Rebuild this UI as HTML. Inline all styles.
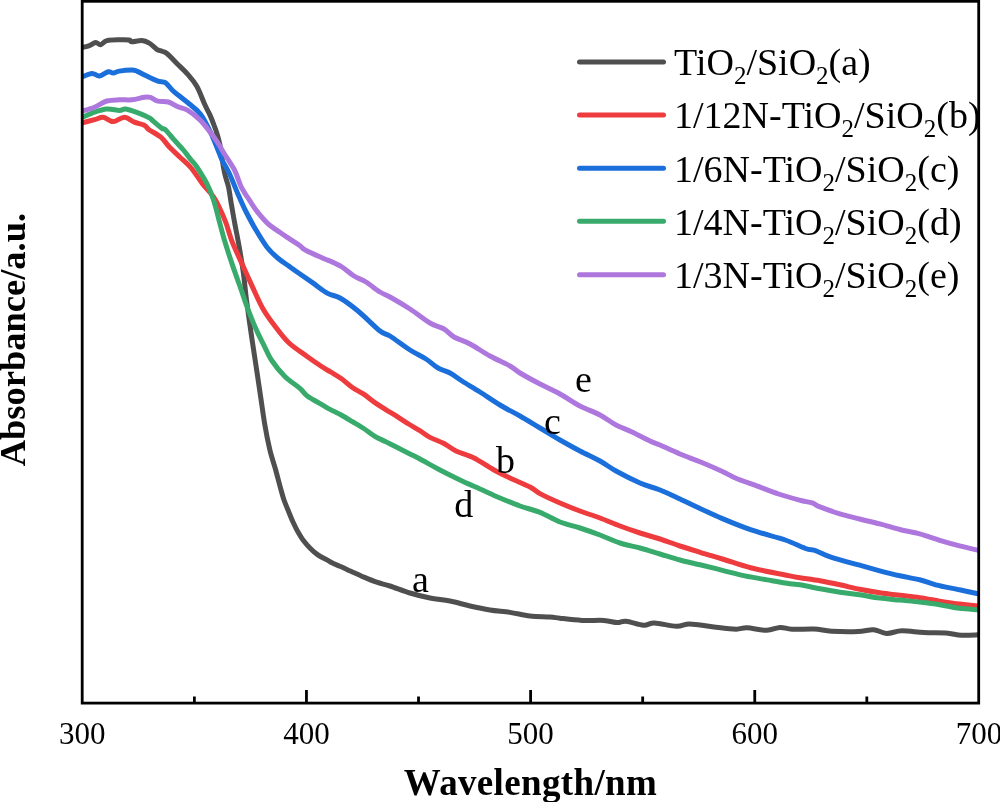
<!DOCTYPE html>
<html><head><meta charset="utf-8">
<style>
html,body{margin:0;padding:0;background:#fff;}
body{width:1000px;height:802px;overflow:hidden;position:relative;}
svg{position:absolute;left:0;top:0;will-change:transform;}
text{font-family:"Liberation Serif",serif;fill:#000;}
.tk{font-size:31px;}
.lg{font-size:38px;}
.sub{font-size:25px;}
.ttl{font-size:37px;font-weight:bold;}
.cl{font-size:38px;}
</style></head><body>
<svg width="1000" height="802" viewBox="0 0 1000 802">
<defs><clipPath id="pc"><rect x="82.3" y="0" width="896.5" height="702"/></clipPath></defs>
<g fill="none" stroke-width="5.0" stroke-linejoin="round" stroke-linecap="round" clip-path="url(#pc)">
<path d="M82.5 47.4 C83.7 47.1 87.3 46.4 89.5 45.6 C91.7 44.8 93.8 42.6 95.7 42.5 C97.6 42.4 98.8 45.0 100.7 44.7 C102.6 44.4 103.8 41.4 106.9 40.6 C110.0 39.8 115.7 39.8 119.4 39.7 C123.2 39.6 127.3 39.6 129.4 40.0 C131.5 40.4 129.7 41.7 131.8 41.8 C133.9 41.9 138.9 40.4 141.8 40.6 C144.7 40.8 146.8 41.7 149.3 43.1 C151.8 44.5 154.7 47.9 156.8 49.3 C158.9 50.6 160.3 50.5 162.0 51.2 C163.7 51.9 164.3 51.4 166.9 53.5 C169.5 55.6 173.9 60.4 177.4 63.9 C180.9 67.4 184.6 70.7 187.8 74.4 C191.0 78.1 193.9 81.2 196.8 86.3 C199.7 91.4 202.8 100.2 205.0 105.0 C207.2 109.8 208.4 111.6 209.9 114.9 C211.4 118.2 212.7 121.6 213.9 124.9 C215.2 128.2 216.4 131.6 217.4 134.9 C218.4 138.2 219.2 141.3 219.9 144.8 C220.6 148.3 220.8 151.0 221.6 156.0 C222.4 161.0 223.8 169.6 225.0 174.8 C226.2 180.0 227.4 182.0 228.5 187.0 C229.6 192.0 230.4 198.7 231.5 205.0 C232.6 211.3 233.6 217.3 235.0 224.7 C236.4 232.1 238.3 241.3 239.7 249.6 C241.1 257.9 242.5 266.2 243.6 274.6 C244.7 283.0 245.4 291.6 246.5 300.0 C247.6 308.4 248.7 316.6 249.9 324.9 C251.1 333.2 252.3 341.6 253.6 349.9 C254.8 358.2 256.1 366.5 257.4 374.8 C258.6 383.1 259.9 391.5 261.1 399.8 C262.3 408.1 263.4 416.4 264.8 424.7 C266.2 433.0 268.0 442.1 269.8 449.6 C271.6 457.2 273.9 463.4 275.7 470.0 C277.5 476.6 279.5 484.5 280.9 489.5 C282.3 494.5 282.8 496.6 284.0 500.0 C285.2 503.4 286.5 506.3 288.0 510.0 C289.5 513.7 291.3 518.3 293.0 522.0 C294.7 525.7 296.3 529.0 298.0 532.0 C299.7 535.0 301.0 537.4 303.0 540.0 C305.0 542.6 307.4 545.4 309.9 547.9 C312.4 550.4 315.1 552.9 317.9 554.9 C320.7 556.9 324.6 558.6 326.9 559.9 C329.2 561.2 329.7 561.7 331.9 562.8 C334.1 563.9 336.9 565.0 339.9 566.3 C342.9 567.6 346.1 569.1 349.8 570.8 C353.5 572.4 357.3 574.3 361.8 576.2 C366.3 578.1 372.0 580.6 376.7 582.2 C381.4 583.8 384.4 584.2 390.0 586.0 C395.6 587.8 403.3 591.0 410.0 593.0 C416.7 595.0 423.3 596.7 430.0 598.0 C436.7 599.3 443.3 599.7 450.0 601.0 C456.7 602.3 463.3 604.5 470.0 606.0 C476.7 607.5 483.3 608.9 490.0 610.0 C496.7 611.1 503.3 611.4 510.0 612.4 C516.7 613.4 523.3 615.2 530.0 616.0 C536.7 616.8 545.0 616.6 550.0 617.0 C555.0 617.4 554.7 617.6 560.0 618.2 C565.3 618.8 574.7 620.0 582.0 620.4 C589.3 620.8 598.1 620.0 604.0 620.4 C609.9 620.8 613.5 622.5 617.2 622.6 C620.9 622.7 621.6 620.8 626.0 621.2 C630.4 621.6 638.8 624.9 643.6 625.2 C648.4 625.5 649.1 622.8 654.6 623.0 C660.1 623.2 670.7 626.1 676.6 626.3 C682.5 626.5 683.6 624.0 689.8 624.1 C696.0 624.2 706.3 626.1 714.0 627.0 C721.7 627.9 730.5 629.1 736.0 629.2 C741.5 629.3 741.9 627.6 747.0 627.8 C752.1 628.0 761.3 630.4 766.8 630.3 C772.3 630.2 775.8 627.6 780.0 627.4 C784.2 627.2 786.3 629.0 792.0 629.3 C797.7 629.6 807.4 628.7 814.0 629.0 C820.6 629.3 824.3 630.8 831.6 631.2 C838.9 631.6 851.0 631.8 858.0 631.5 C865.0 631.2 868.6 629.4 873.4 629.7 C878.2 630.0 881.8 633.2 886.6 633.4 C891.4 633.6 895.8 630.9 902.0 630.8 C908.2 630.7 916.7 632.2 924.0 632.6 C931.3 633.0 939.8 632.6 946.0 633.0 C952.2 633.4 956.1 634.9 961.4 635.2 C966.7 635.5 975.2 634.9 978.0 634.8" stroke="#4f4f4f"/>
<path d="M82.5 122.8 C84.5 122.3 91.0 120.6 94.5 119.7 C98.0 118.8 100.1 116.9 103.2 117.2 C106.3 117.5 109.7 121.6 113.2 121.6 C116.7 121.6 120.9 117.1 124.4 117.2 C127.9 117.3 131.0 120.9 134.3 122.2 C137.6 123.5 141.9 124.0 144.3 125.3 C146.8 126.5 146.2 127.7 149.0 129.7 C151.8 131.7 157.4 134.2 160.9 137.2 C164.4 140.2 166.7 144.3 169.9 147.6 C173.1 150.9 176.4 153.8 180.0 157.2 C183.6 160.6 187.5 163.6 191.2 168.0 C194.9 172.4 198.7 178.8 202.4 183.7 C206.2 188.5 210.7 192.7 213.7 197.1 C216.7 201.5 218.4 205.7 220.5 210.0 C222.6 214.3 224.0 217.6 226.0 223.0 C228.0 228.4 229.7 235.4 232.4 242.4 C235.2 249.4 239.1 257.4 242.5 264.9 C245.9 272.4 249.4 280.2 252.7 287.4 C256.0 294.6 259.0 301.8 262.5 308.0 C266.0 314.2 269.5 319.0 273.9 324.8 C278.3 330.6 283.3 337.6 288.8 342.8 C294.3 348.0 301.3 352.2 306.8 356.2 C312.3 360.2 318.0 364.1 322.0 366.8 C326.0 369.5 327.8 370.2 331.0 372.2 C334.2 374.1 337.6 375.9 341.2 378.5 C344.8 381.1 348.6 384.9 352.4 387.5 C356.1 390.1 359.9 391.7 363.7 394.2 C367.4 396.7 371.2 400.0 374.9 402.6 C378.6 405.2 382.4 407.5 386.1 409.9 C389.8 412.2 393.6 414.3 397.3 416.7 C401.1 419.1 404.9 421.7 408.6 424.0 C412.4 426.3 416.2 428.5 419.8 430.7 C423.4 432.9 426.0 435.3 430.0 437.4 C434.0 439.5 439.7 441.2 444.0 443.5 C448.3 445.8 451.0 448.6 456.0 451.0 C461.0 453.4 467.7 454.8 474.0 458.0 C480.3 461.2 488.0 466.7 494.0 470.0 C500.0 473.3 504.0 475.2 510.0 478.0 C516.0 480.8 525.0 484.4 530.0 487.0 C535.0 489.6 535.0 490.9 540.0 493.6 C545.0 496.3 553.3 500.1 560.0 503.0 C566.7 505.9 573.3 508.5 580.0 511.0 C586.7 513.5 593.3 515.5 600.0 518.0 C606.7 520.5 613.3 523.5 620.0 526.0 C626.7 528.5 633.3 530.8 640.0 533.0 C646.7 535.2 653.3 536.8 660.0 539.0 C666.7 541.2 673.3 543.8 680.0 546.0 C686.7 548.2 692.9 550.1 700.0 552.3 C707.1 554.5 713.8 556.4 722.4 559.0 C731.0 561.6 740.4 565.2 751.6 568.0 C762.8 570.8 781.7 574.3 789.8 575.9 C797.9 577.5 795.0 577.0 800.0 577.8 C805.0 578.6 813.4 579.6 820.0 580.8 C826.6 582.0 833.3 583.4 839.9 584.8 C846.5 586.2 853.0 588.0 859.6 589.3 C866.2 590.6 873.1 591.8 879.8 592.8 C886.5 593.8 893.1 594.5 899.8 595.3 C906.4 596.1 913.1 596.7 919.7 597.7 C926.4 598.7 933.1 600.0 939.7 601.1 C946.4 602.2 953.2 603.3 959.6 604.1 C966.0 604.9 974.9 605.8 978.0 606.1" stroke="#ee3b3d"/>
<path d="M82.5 76.7 C84.1 76.2 89.2 73.5 92.0 73.4 C94.8 73.3 96.7 76.2 99.4 75.9 C102.1 75.6 105.9 72.2 108.2 71.7 C110.5 71.2 111.3 73.1 113.2 73.0 C115.1 72.9 116.3 71.6 119.4 71.1 C122.5 70.6 128.9 70.1 131.8 70.1 C134.7 70.1 134.3 70.1 136.8 71.1 C139.3 72.1 143.3 74.4 146.8 76.1 C150.3 77.8 154.8 80.0 157.9 81.1 C161.0 82.2 162.9 81.0 165.4 82.6 C167.9 84.2 170.4 88.4 172.9 90.8 C175.4 93.2 177.6 94.5 180.4 96.8 C183.2 99.1 186.7 101.7 190.0 104.5 C193.3 107.3 197.0 109.9 200.0 113.6 C203.0 117.3 205.6 122.5 207.9 126.9 C210.2 131.3 211.9 135.2 213.9 139.9 C215.9 144.6 218.6 151.5 219.9 154.8 C221.2 158.2 220.4 156.8 222.0 160.0 C223.6 163.2 227.1 168.7 229.7 174.3 C232.3 179.9 235.1 187.5 237.8 193.7 C240.5 199.9 242.9 205.6 245.9 211.5 C248.9 217.4 252.1 223.5 255.6 229.4 C259.1 235.3 263.2 242.3 267.0 247.2 C270.8 252.0 274.5 255.3 278.3 258.5 C282.1 261.7 286.0 264.0 289.6 266.6 C293.2 269.2 296.1 271.3 300.0 274.0 C303.9 276.7 308.2 279.7 312.8 282.9 C317.4 286.1 323.2 290.9 327.7 293.4 C332.2 295.9 334.9 295.1 340.0 298.0 C345.1 300.9 351.3 305.5 358.0 311.0 C364.7 316.5 374.7 326.8 380.0 331.0 C385.3 335.2 385.0 332.8 390.0 336.0 C395.0 339.2 404.0 346.2 410.0 350.0 C416.0 353.8 421.3 356.0 426.0 359.0 C430.7 362.0 434.0 365.7 438.0 368.0 C442.0 370.3 446.0 370.8 450.0 373.0 C454.0 375.2 457.0 377.8 462.0 381.0 C467.0 384.2 473.7 388.0 480.0 392.0 C486.3 396.0 493.3 401.0 500.0 405.0 C506.7 409.0 513.3 412.2 520.0 416.0 C526.7 419.8 533.3 424.0 540.0 428.0 C546.7 432.0 553.3 436.2 560.0 440.0 C566.7 443.8 573.3 447.5 580.0 451.0 C586.7 454.5 594.0 457.7 600.0 461.0 C606.0 464.3 609.3 467.3 616.0 471.0 C622.7 474.7 632.7 479.8 640.0 483.0 C647.3 486.2 653.3 487.3 660.0 490.0 C666.7 492.7 673.3 495.9 680.0 499.0 C686.7 502.1 692.9 505.2 700.0 508.5 C707.1 511.8 714.9 515.4 722.4 518.6 C729.9 521.8 738.5 525.2 744.9 527.6 C751.3 530.0 753.9 530.7 760.6 532.8 C767.3 534.9 777.8 537.4 785.3 540.0 C792.8 542.6 800.4 546.7 805.5 548.5 C810.6 550.3 811.9 549.4 816.0 550.8 C820.1 552.2 822.9 554.4 830.2 556.8 C837.5 559.2 851.3 562.9 859.6 565.2 C867.9 567.5 873.1 569.0 879.8 570.8 C886.5 572.6 893.1 574.3 899.8 575.8 C906.4 577.3 913.7 578.3 919.7 579.8 C925.7 581.3 929.1 583.1 935.7 584.8 C942.4 586.5 952.6 588.3 959.6 589.8 C966.6 591.3 974.9 593.1 978.0 593.7" stroke="#1b6fdb"/>
<path d="M82.5 117.2 C84.5 116.4 90.4 113.6 94.5 112.2 C98.6 110.8 102.8 109.4 106.9 109.1 C111.1 108.8 116.3 110.4 119.4 110.4 C122.5 110.4 122.5 108.7 125.6 109.1 C128.7 109.5 134.1 111.4 138.1 112.9 C142.1 114.4 147.0 116.7 149.3 117.9 C151.6 119.1 149.9 118.2 152.0 120.0 C154.1 121.8 159.8 126.8 162.0 128.4 C164.2 130.0 163.3 127.7 165.4 129.7 C167.5 131.7 171.4 136.8 174.4 140.2 C177.4 143.6 180.8 146.9 183.4 150.0 C186.0 153.1 187.8 155.8 190.0 158.6 C192.2 161.4 194.0 162.6 196.8 166.8 C199.6 171.0 204.1 178.1 206.9 183.7 C209.7 189.3 211.8 194.7 213.7 200.5 C215.6 206.3 216.8 211.8 218.6 218.6 C220.4 225.3 222.4 233.3 224.7 241.0 C227.0 248.7 229.8 257.2 232.4 264.9 C235.0 272.6 237.7 279.8 240.3 287.3 C242.9 294.8 245.5 302.8 248.1 309.7 C250.7 316.6 253.2 322.7 256.0 329.0 C258.8 335.3 262.3 342.1 264.9 347.3 C267.5 352.5 268.1 355.1 271.4 360.0 C274.7 364.9 280.1 371.8 284.9 376.5 C289.6 381.2 296.2 385.2 299.9 388.4 C303.6 391.6 303.6 393.1 307.3 395.9 C311.0 398.6 318.5 402.6 322.3 404.9 C326.1 407.1 326.9 407.7 330.0 409.4 C333.1 411.1 337.5 412.9 341.2 415.0 C344.9 417.1 348.6 419.4 352.4 421.7 C356.1 423.9 359.9 426.1 363.7 428.5 C367.4 430.9 371.2 434.1 374.9 436.3 C378.6 438.5 382.4 440.0 386.1 441.9 C389.8 443.8 393.3 445.6 397.3 447.6 C401.3 449.6 406.2 452.1 410.0 454.0 C413.8 455.9 415.0 456.3 420.0 459.0 C425.0 461.7 433.3 466.5 440.0 470.0 C446.7 473.5 453.3 476.8 460.0 480.0 C466.7 483.2 473.3 486.0 480.0 489.0 C486.7 492.0 493.3 495.2 500.0 498.0 C506.7 500.8 513.3 503.6 520.0 506.0 C526.7 508.4 533.3 509.7 540.0 512.4 C546.7 515.1 553.3 519.4 560.0 522.0 C566.7 524.6 573.3 525.8 580.0 528.0 C586.7 530.2 593.3 532.5 600.0 535.0 C606.7 537.5 613.3 540.8 620.0 543.0 C626.7 545.2 633.3 546.2 640.0 548.0 C646.7 549.8 653.3 552.0 660.0 554.0 C666.7 556.0 673.3 558.2 680.0 560.0 C686.7 561.8 692.9 563.1 700.0 564.8 C707.1 566.5 714.9 568.4 722.4 570.3 C729.9 572.1 737.4 574.3 744.9 575.9 C752.4 577.5 759.8 578.6 767.3 579.9 C774.8 581.2 784.3 582.9 789.8 583.7 C795.2 584.5 795.0 583.9 800.0 584.8 C805.0 585.6 813.4 587.6 820.0 588.8 C826.6 590.0 833.3 591.2 839.9 592.2 C846.5 593.2 853.0 593.8 859.6 594.8 C866.2 595.8 873.1 597.2 879.8 598.1 C886.5 599.0 893.1 599.4 899.8 600.1 C906.4 600.8 913.1 601.3 919.7 602.1 C926.4 602.9 933.1 603.7 939.7 604.7 C946.4 605.7 953.2 607.4 959.6 608.3 C966.0 609.1 974.9 609.5 978.0 609.8" stroke="#38ab6c"/>
<path d="M82.5 111.0 C84.5 110.4 90.4 109.0 94.5 107.3 C98.6 105.6 102.8 102.2 106.9 101.0 C111.1 99.8 115.2 100.0 119.4 99.8 C123.6 99.6 127.7 100.2 131.8 99.8 C136.0 99.4 141.2 97.7 144.3 97.3 C147.4 96.9 148.2 96.8 150.5 97.4 C152.8 98.1 154.9 100.4 157.9 101.2 C160.9 102.0 165.2 101.1 168.4 102.0 C171.7 102.9 174.2 105.1 177.4 106.5 C180.6 107.9 184.0 108.1 187.8 110.3 C191.6 112.5 196.3 116.3 200.0 119.9 C203.7 123.5 206.9 128.1 209.9 131.9 C212.9 135.7 215.6 139.4 217.9 142.8 C220.2 146.2 220.7 148.0 223.5 152.5 C226.3 157.0 231.6 164.3 234.5 170.0 C237.4 175.7 238.6 181.6 241.2 186.8 C243.8 192.0 247.4 197.1 250.2 201.4 C253.0 205.7 255.0 208.9 258.0 212.6 C261.0 216.3 264.4 220.4 268.1 223.8 C271.9 227.2 276.8 230.2 280.5 232.8 C284.2 235.4 287.4 237.4 290.6 239.6 C293.9 241.8 297.6 244.1 300.0 245.8 C302.4 247.5 301.2 247.8 305.3 250.0 C309.4 252.2 320.6 257.2 324.7 259.0 C328.8 260.8 327.1 259.7 330.0 261.0 C332.9 262.3 338.0 264.5 342.0 267.0 C346.0 269.5 350.0 273.5 354.0 276.0 C358.0 278.5 361.7 279.3 366.0 282.0 C370.3 284.7 376.0 289.5 380.0 292.0 C384.0 294.5 385.0 294.2 390.0 297.0 C395.0 299.8 403.3 304.7 410.0 309.0 C416.7 313.3 424.3 319.7 430.0 323.0 C435.7 326.3 440.0 326.7 444.0 329.0 C448.0 331.3 449.7 334.5 454.0 337.0 C458.3 339.5 464.0 340.8 470.0 344.0 C476.0 347.2 483.3 352.3 490.0 356.0 C496.7 359.7 505.0 363.2 510.0 366.0 C515.0 368.8 515.0 370.0 520.0 373.0 C525.0 376.0 533.3 380.5 540.0 384.0 C546.7 387.5 553.3 390.3 560.0 394.0 C566.7 397.7 573.3 402.5 580.0 406.0 C586.7 409.5 594.0 411.8 600.0 415.0 C606.0 418.2 610.7 422.2 616.0 425.0 C621.3 427.8 626.3 429.3 632.0 432.0 C637.7 434.7 645.3 438.8 650.0 441.0 C654.7 443.2 655.0 442.8 660.0 445.0 C665.0 447.2 673.3 451.2 680.0 454.0 C686.7 456.8 692.9 458.9 700.0 461.8 C707.1 464.7 716.4 468.8 722.4 471.5 C728.4 474.2 730.3 475.8 735.9 478.2 C741.5 480.6 749.0 483.1 756.1 485.7 C763.2 488.3 771.0 491.5 778.5 494.0 C786.0 496.5 795.4 499.0 801.0 500.5 C806.6 502.0 809.0 501.8 812.2 502.9 C815.4 504.0 815.4 505.1 820.0 506.9 C824.6 508.7 833.3 511.9 839.9 513.9 C846.5 515.9 853.0 517.3 859.6 519.0 C866.2 520.7 873.1 522.1 879.8 523.9 C886.5 525.6 893.1 527.8 899.8 529.5 C906.4 531.2 913.1 532.1 919.7 533.9 C926.4 535.7 933.1 538.3 939.7 540.3 C946.4 542.3 953.2 544.2 959.6 545.9 C966.0 547.5 974.9 549.5 978.0 550.2" stroke="#ae77dd"/>
</g>
<g stroke="#000" stroke-width="2.8" fill="none">
<rect x="82.2" y="1.3" width="896.5" height="701.8"/>
<line x1="194.38" y1="703" x2="194.38" y2="696.5"/>
<line x1="306.45" y1="703" x2="306.45" y2="690.0"/>
<line x1="418.52" y1="703" x2="418.52" y2="696.5"/>
<line x1="530.60" y1="703" x2="530.60" y2="690.0"/>
<line x1="642.67" y1="703" x2="642.67" y2="696.5"/>
<line x1="754.75" y1="703" x2="754.75" y2="690.0"/>
<line x1="866.82" y1="703" x2="866.82" y2="696.5"/>
</g>
<g class="tk">
<text x="82.30" y="743.5" text-anchor="middle">300</text>
<text x="306.45" y="743.5" text-anchor="middle">400</text>
<text x="530.60" y="743.5" text-anchor="middle">500</text>
<text x="754.75" y="743.5" text-anchor="middle">600</text>
<text x="978.90" y="743.5" text-anchor="middle">700</text>
</g>
<line x1="579.5" y1="61.9" x2="663.5" y2="61.9" stroke="#4f4f4f" stroke-width="5" stroke-linecap="round"/>
<text x="674" y="75.3" class="lg">TiO<tspan class="sub" dy="9">2</tspan><tspan dy="-9">/SiO</tspan><tspan class="sub" dy="9">2</tspan><tspan dy="-9">(a)</tspan></text>
<line x1="579.5" y1="114.9" x2="663.5" y2="114.9" stroke="#ee3b3d" stroke-width="5" stroke-linecap="round"/>
<text x="674" y="128.3" class="lg">1/12N-TiO<tspan class="sub" dy="9">2</tspan><tspan dy="-9">/SiO</tspan><tspan class="sub" dy="9">2</tspan><tspan dy="-9">(b)</tspan></text>
<line x1="579.5" y1="168.2" x2="663.5" y2="168.2" stroke="#1b6fdb" stroke-width="5" stroke-linecap="round"/>
<text x="674" y="181.6" class="lg">1/6N-TiO<tspan class="sub" dy="9">2</tspan><tspan dy="-9">/SiO</tspan><tspan class="sub" dy="9">2</tspan><tspan dy="-9">(c)</tspan></text>
<line x1="579.5" y1="221.3" x2="663.5" y2="221.3" stroke="#38ab6c" stroke-width="5" stroke-linecap="round"/>
<text x="674" y="234.7" class="lg">1/4N-TiO<tspan class="sub" dy="9">2</tspan><tspan dy="-9">/SiO</tspan><tspan class="sub" dy="9">2</tspan><tspan dy="-9">(d)</tspan></text>
<line x1="579.5" y1="274.8" x2="663.5" y2="274.8" stroke="#ae77dd" stroke-width="5" stroke-linecap="round"/>
<text x="674" y="288.2" class="lg">1/3N-TiO<tspan class="sub" dy="9">2</tspan><tspan dy="-9">/SiO</tspan><tspan class="sub" dy="9">2</tspan><tspan dy="-9">(e)</tspan></text>

<text class="cl" x="412" y="591.7">a</text>
<text class="cl" x="496" y="472.5">b</text>
<text class="cl" x="544" y="434">c</text>
<text class="cl" x="454.3" y="516.5">d</text>
<text class="cl" x="575" y="392">e</text>
<text class="ttl" x="530.5" y="794.5" text-anchor="middle" style="letter-spacing:0.35px">Wavelength/nm</text>
<text class="ttl" transform="translate(25,339.6) rotate(-90)" text-anchor="middle" style="font-size:36.5px">Absorbance/a.u.</text>
</svg>
</body></html>
